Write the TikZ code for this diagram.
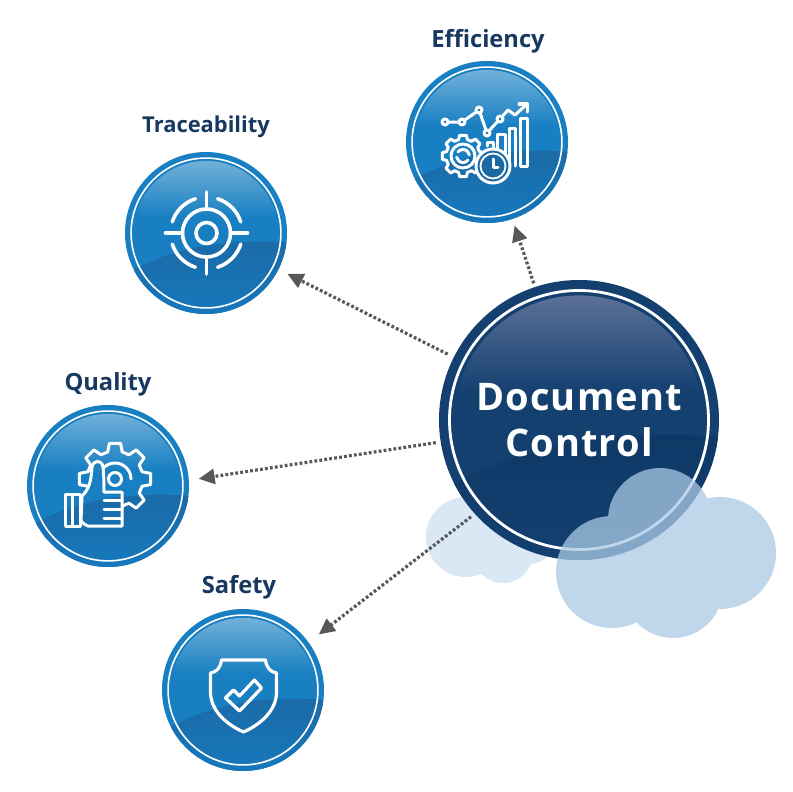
\documentclass[tikz,border=0pt]{standalone}
\usepackage{fontspec}
\setmainfont{Open Sans}
\newfontfamily\hubfont[LetterSpace=3]{Open Sans}
\newcommand{\hubtext}{\hubfont\bfseries\fontsize{38}{47}\selectfont}
\usetikzlibrary{fadings,arrows.meta}
\definecolor{navy}{RGB}{20,64,112}
\definecolor{navydark}{RGB}{14,56,102}
\definecolor{navylow}{RGB}{20,64,112}
\definecolor{navyshine}{RGB}{205,190,215}
\definecolor{azure}{RGB}{24,128,194}
\definecolor{azuredark}{RGB}{27,106,166}
\definecolor{azurelow}{RGB}{22,120,188}
\definecolor{azureshine}{RGB}{255,255,255}
\definecolor{tagblue}{RGB}{23,56,96}
\definecolor{cloudfront}{RGB}{170,201,229}
\definecolor{cloudback}{RGB}{218,231,244}
\definecolor{flowgray}{RGB}{88,88,88}
\tikzfading[name=glossfade, top color=transparent!55, bottom color=transparent!100]
\tikzset{
	x=1pt, y=-1pt,
	hub/.style={circle, minimum size=#1pt, inner sep=0pt, outer sep=0pt},
	tag/.style={text=tagblue, font=\bfseries\fontsize{#1}{26}\selectfont},
	flow/.style={draw=flowgray, line width=3.2pt, dash pattern=on 2.8pt off 2.2pt, -{Triangle[length=16pt,width=15pt]}},
	icon/.style={draw=white, line width=3pt, line cap=round, line join=round},
}
% disc with shine, then its named node on top
\newcommand{\glossdisc}[5]{
	\begin{scope}[shift={(#2)}, x=#3pt, y=-#3pt]
		\fill[#4] (0,0) circle [radius=1];
		\begin{scope}
			\clip (0,0) circle [radius=1];
			\shade[top color=#4dark, bottom color=#4low] (-1,0.52) .. controls (-0.5,0.2) and (0.2,0.06) .. (1,0.12) -- (1,1) -- (-1,1) -- cycle;
		\end{scope}
		\begin{scope}
			\clip (0,0) circle [radius=0.89];
			\fill[#4shine, path fading=glossfade] (-1,-1) rectangle (1,-0.2);
		\end{scope}
		\draw[white, line width=#3*0.02pt] (0,0) circle [radius=0.925];
	\end{scope}
	\node[hub=#3*2, text=white, align=center] (#1) at (#2) {#5};
}
% gear outline
\newcommand{\gearoutline}[3]{
	\begin{scope}[shift={(#1)}]
		\draw[icon] (-9:#2) \foreach \tooth in {0,45,...,315} {
			-- (\tooth-9:#2) -- (\tooth+9:#2) -- (\tooth+15:#3) -- (\tooth+30:#3) } -- cycle;
	\end{scope}
}
\newcommand{\thumbpath}{(-26,9) .. controls (-20,3) and (-17,-3) .. (-16,-20) .. controls (-14,-28) and (-6,-27) .. (-5,-20) .. controls (-4,-10) and (-4,-2) .. (-4,5) -- (14,5) -- (14,39) -- (-20,39) .. controls (-23,39) and (-24,36) .. (-27,34) -- cycle}
\begin{document}
\begin{tikzpicture}
	\path[use as bounding box, fill=white] (0,0) rectangle (793,792);

	% cloud behind the hub
	\fill[cloudback] (466,537) circle [radius=40] (503,553) circle [radius=30] (530,540) circle [radius=24];

	\glossdisc{Eff}{487,142}{81}{azure}{}
	\glossdisc{Trace}{206,233}{81}{azure}{}
	\glossdisc{Qual}{108,486}{81}{azure}{}
	\glossdisc{Safe}{243,690}{81}{azure}{}
	\glossdisc{Doc}{579,420}{140}{navy}{\hubtext Document\\[15pt]\hubtext Control}

	\node[tag=23.7] (EffTag) at (488,41) {Efficiency};
	\node[tag=21.9] (TraceTag) at (206,127) {Traceability};
	\node[tag=23.7] (QualTag) at (108,384) {Quality};
	\node[tag=23.7] (SafeTag) at (239,587) {Safety};

	\draw[flow, shorten <=4pt, shorten >=7pt] (Doc) -- (Eff);
	\draw[flow, shorten <=7pt, shorten >=10pt] (Doc) -- (Trace);
	\draw[flow, shorten <=5pt, shorten >=10pt] (Doc.189) -- (Qual.4);
	\draw[flow, shorten <=5pt, shorten >=13pt] (Doc.222) -- (Safe.36);

	% target
	\begin{scope}[shift={(206.5,233)}, icon/.append style={line width=3.6pt}]
		\draw[icon] (0,0) circle [radius=10.5] (0,0) circle [radius=24];
		\foreach \spoke in {0,90,180,270} {
			\draw[icon] (\spoke:24) -- (\spoke:41);
			\draw[icon] (\spoke+18:36) arc [start angle=\spoke+18, end angle=\spoke+72, radius=36];
		}
	\end{scope}

	% shield
	\begin{scope}[shift={(243.5,690)}, icon/.append style={line width=3.2pt}]
		\draw[icon] (-22,-30) -- (22,-30) .. controls (23,-22) and (27,-18) .. (33,-17) -- (33,2) .. controls (33,20) and (18,34) .. (0,42) .. controls (-18,34) and (-33,20) .. (-33,2) -- (-33,-17) .. controls (-27,-18) and (-23,-22) .. (-22,-30) -- cycle;
		\draw[icon] (-18,8) -- (-10,0) -- (-4,6) -- (11,-10) -- (18,-2) -- (-4,21) -- cycle;
	\end{scope}

	% chart, gear and clock
	\begin{scope}[shift={(487,142)}]
		\draw[icon] (-42,-20) -- (-25,-20) -- (-8,-32) -- (0,-9) -- (13,-23) -- (21,-32) -- (28,-27) -- (40,-38);
		\draw[icon] (32,-38) -- (40,-38) -- (40,-30);
		\foreach \px/\py in {-42/-20,-25/-20,-8/-32,0/-9,13/-23}
			\draw[icon, fill=azure] (\px,\py) circle [radius=3];
		\draw[icon] (33,24) -- (33,-24) -- (40,-24) -- (40,24) -- cycle;
		\draw[icon] (22,24) -- (22,-14) -- (28,-14) -- (28,24);
		\draw[icon] (10,10) -- (10,-8) -- (18,-8) -- (18,24);
		\draw[icon] (0,4) -- (0,0) -- (6,0) -- (6,6);
		\gearoutline{-24,14}{21}{17}
		\draw[icon] (-24,14) circle [radius=12];
		\draw[icon] (-24,14) ++(40:6.5) arc [start angle=40, end angle=170, radius=6.5];
		\draw[icon] (-24,14) ++(220:6.5) arc [start angle=220, end angle=350, radius=6.5];
		\draw[icon, fill=azuredark] (6,24) circle [radius=17];
		\draw[icon, line width=1.8pt] (6,24) circle [radius=12.5];
		\draw[icon] (6,17) -- (6,25) -- (11,25);
	\end{scope}

	% gear and thumb
	\begin{scope}[shift={(108,487)}]
		\begin{scope}[even odd rule]
			\clip (-60,-60) rectangle (60,60) \thumbpath;
			\gearoutline{7,-8}{36}{28}
			\draw[icon] (-9,-8) arc [start angle=180, end angle=360, radius=16];
		\end{scope}
		\draw[icon] (7,-8) circle [radius=6.5];
		\draw[icon] (-43,7) rectangle (-28,39);
		\draw[icon] (-36,8) -- (-36,38);
		\draw[icon] \thumbpath;
		\foreach \fy in {13,22,31}
			\draw[icon] (-4,\fy) -- (14,\fy);
	\end{scope}

	% cloud over the hub
	\fill[cloudfront, fill opacity=0.75] (660,520) circle [radius=52] (720,553) circle [radius=56] (612,572) circle [radius=56] (673,588) circle [radius=50] (665,560) circle [radius=50];
\end{tikzpicture}
\end{document}
